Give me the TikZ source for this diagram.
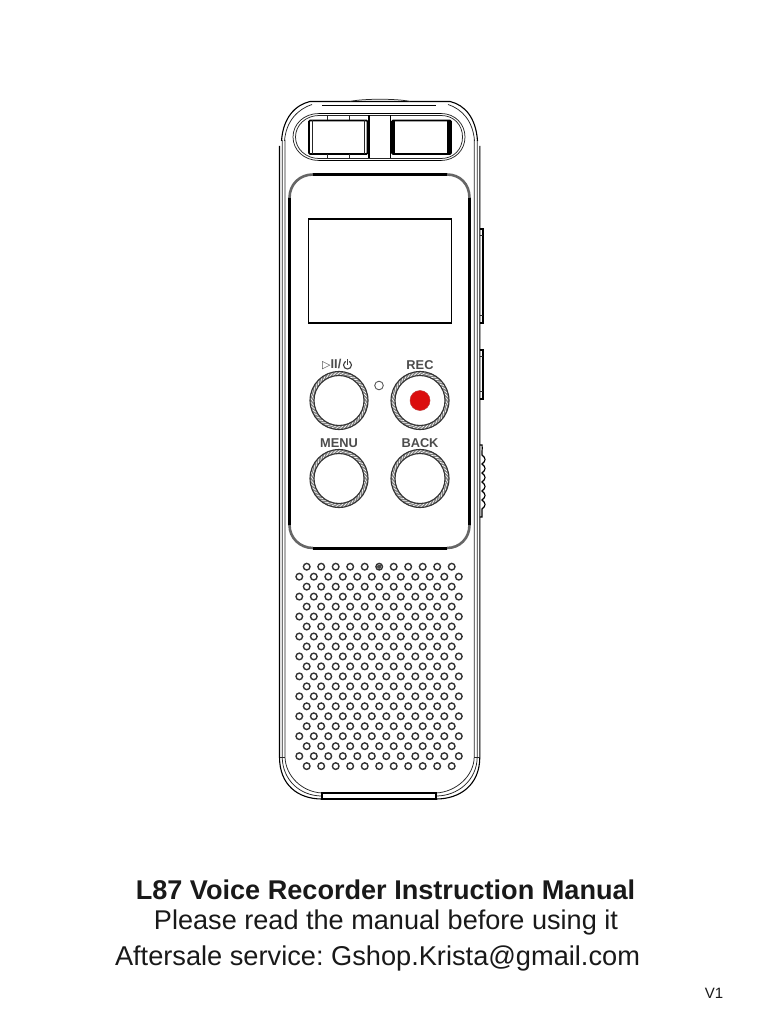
\documentclass[tikz,border=0pt]{standalone}
\usepackage{fontspec}
\setmainfont{Liberation Sans}
\newfontfamily\djv{DejaVu Sans}
\frenchspacing
\tikzset{
  ln/.style={draw=black,line width=1.1pt},
  thn/.style={draw=black!85,line width=0.75pt},
  thk/.style={draw=black,line width=3pt},
  hole/.style={draw=black!80,line width=1.4pt,fill=white},
  keylabel/.style={font=\fontsize{12.8}{13}\selectfont\bfseries,text=black!70,inner sep=0pt},
  txt/.style={inner sep=0pt,text=black!90,anchor=base},
}
\newcommand{\keyring}[2]{%
  \fill[black!50,even odd rule] (#1,#2) circle (29) (#1,#2) circle (25);
  \foreach \a in {0,8,...,359}{
    \draw[white,line width=0.6pt] ({#1+25.5*cos(\a)},{#2+25.5*sin(\a)}) -- ({#1+28.5*cos(\a+9)},{#2+28.5*sin(\a+9)});
  }
  \draw[draw=black!80,line width=1.1pt] (#1,#2) circle (29);
  \draw[draw=black!80,line width=1.1pt] (#1,#2) circle (25);
}
\begin{document}
\begin{tikzpicture}[x=1pt,y=-1pt]
\useasboundingbox[fill=white] (0,0) rectangle (768,1024);
% body outlines
\draw[ln] (279.5,146) -- (279.5,757) .. controls (279.5,785) and (298,799) .. (322,799) -- (436,799) .. controls (460,799) and (479.8,785) .. (479.8,757) -- (479.8,146);
\draw[thn] (282.2,140) -- (282.2,757) .. controls (282.5,780) and (300,796) .. (322,796);
\draw[thn] (477.2,140) -- (477.2,757) .. controls (477,780) and (458,796) .. (436,796);
\draw[thn] (285,140) -- (285,757) .. controls (285.5,776) and (302,792) .. (322,793);
\draw[thn] (474.2,140) -- (474.2,757) .. controls (474,776) and (456,792) .. (436,793);
\draw[ln] (322,793) rectangle (436,799);
\draw[thn] (279.5,757) -- (285,757) (474.2,757) -- (479.8,757);
% top shoulder
\draw[ln] (281.5,141) .. controls (283,118) and (295,105) .. (310,101.5) -- (450,101.5) .. controls (465,105) and (476,118) .. (477.5,141);
\draw[thn] (284.5,141) .. controls (286,121) and (298,109) .. (312,104.5);
\draw[thn] (474.5,141) .. controls (473,121) and (462,109) .. (448,104.5);
\draw[ln] (322,105.2) -- (436,105.2);
\draw[thn] (350,101.5) .. controls (362,98.5) and (398,98.5) .. (410,101.5);
% top pill
\draw[thn] (319,113.5) -- (441,113.5) .. controls (455,113.5) and (465,124) .. (465,137) .. controls (465,150) and (455,160.5) .. (441,160.5) -- (319,160.5) .. controls (304,160.5) and (293,150) .. (293,137) .. controls (293,124) and (304,113.5) .. (319,113.5);
\draw[thn] (319,115.5) -- (441,115.5) .. controls (454,115.5) and (462.5,125) .. (462.5,137) .. controls (462.5,149) and (454,158.5) .. (441,158.5) -- (319,158.5) .. controls (306,158.5) and (295.5,149) .. (295.5,137) .. controls (295.5,125) and (306,115.5) .. (319,115.5);
\draw[ln] (319,113.5) -- (441,113.5);
\draw[ln] (319,160.5) -- (441,160.5);
% clips
\draw[draw=black,line width=1.7pt,rounded corners=1pt] (309,120.5) rectangle (367.5,154);
\draw[thn] (312,120.5) -- (312,154) (364.5,120.5) -- (364.5,154);
\draw[draw=black,line width=1.7pt,rounded corners=1pt] (392,120.5) rectangle (451,154);
\draw[draw=black,line width=1.4pt] (394,120.5) -- (394,154);
\draw[draw=black,line width=2.2pt] (448.5,120.5) -- (448.5,154);
\draw[ln] (369,115.5) -- (369,158.5) (390.5,115.5) -- (390.5,158.5);
\draw[thn] (327.5,115.5) -- (327.5,120.5) (349,115.5) -- (349,120.5) (327.5,154) -- (327.5,158.5) (349,154) -- (349,158.5);
% right side keys
\draw[ln] (479.8,229) -- (483,229) -- (483,323) -- (479.8,323);
\draw[thn] (479.8,235) -- (483,235) (479.8,315) -- (483,315);
\draw[ln] (479.8,350) -- (483,350) -- (483,399) -- (479.8,399);
\draw[thn] (479.8,356) -- (483,356) (479.8,391) -- (483,391);
\draw[ln] (479.8,445) -- (482,445) .. controls (483,450) and (481,452) .. (482,455)
  \foreach \k in {0,...,5}{ .. controls (486,{458+\k*9}) and (486,{461+\k*9}) .. (482,{464+\k*9}) } -- (482,517) -- (479.8,517);
% panel
\draw[draw=black!60,line width=2.6pt] (289.5,198) .. controls (289.5,184) and (300,174.5) .. (313,174.5) (447,174.5) .. controls (460,174.5) and (469.5,184) .. (469.5,198) (289.5,525) .. controls (289.5,538) and (300,548) .. (313,548) (447,548) .. controls (460,548) and (469.5,538) .. (469.5,525);
\draw[thk] (313,174.5) -- (447,174.5) (313,548) -- (447,548) (289.5,198) -- (289.5,525) (469.5,198) -- (469.5,525);
% LCD
\node[draw=black,line width=1.1pt,minimum width=142.5pt,minimum height=104pt,inner sep=0pt] (lcd) at (380,271) {};
% keys
\keyring{339}{400.5}
\keyring{420}{400.5}
\keyring{339}{478.5}
\keyring{420}{478.5}
\fill[red!85!black!95,draw=red!70!black!80,line width=.5pt] (420,400.5) circle (10);
\draw[draw=black!65,line width=0.9pt] (379,385.5) circle (4.3);
% key labels
\node[keylabel,anchor=east] (playl) at (341.5,365) {{\djv\fontsize{11}{12}\selectfont\char"25B7}II/};
\draw[black!75,line width=1.1pt] (347.5,365) circle (4);
\fill[white] (345.6,359.5) rectangle (349.4,362.5);
\draw[black!75,line width=1.1pt] (347.5,359) -- (347.5,364.5);
\node[keylabel] (recl) at (420,365) {REC};
\node[keylabel] (menul) at (339,443) {MENU};
\node[keylabel] (backl) at (420,443) {BACK};
% speaker
\foreach \r in {0,2,...,20}{
  \foreach \c in {0,...,10}{
    \draw[hole] ({306.7+14.5*\c},{566.7+9.97*\r}) circle (3.3);
  }
}
\foreach \r in {1,3,...,19}{
  \foreach \c in {0,...,11}{
    \draw[hole] ({299.3+14.5*\c},{566.7+9.97*\r}) circle (3.3);
  }
}
\fill[black!70] (379.2,566.7) circle (2.2);
% text
\node[txt,font=\fontsize{27.1}{28}\selectfont\bfseries] (title) at (385.5,899.5) {L87 Voice Recorder Instruction Manual};
\node[txt,font=\fontsize{27.1}{28}\selectfont] (sub) at (386,929.5) {Please read the manual before using it};
\node[txt,font=\fontsize{27.2}{28}\selectfont] (svc) at (377.5,965.5) {Aftersale service: Gshop.Krista@gmail.com};
\node[txt,font=\fontsize{15}{16}\selectfont] (ver) at (714,998) {V1};
\end{tikzpicture}
\end{document}
